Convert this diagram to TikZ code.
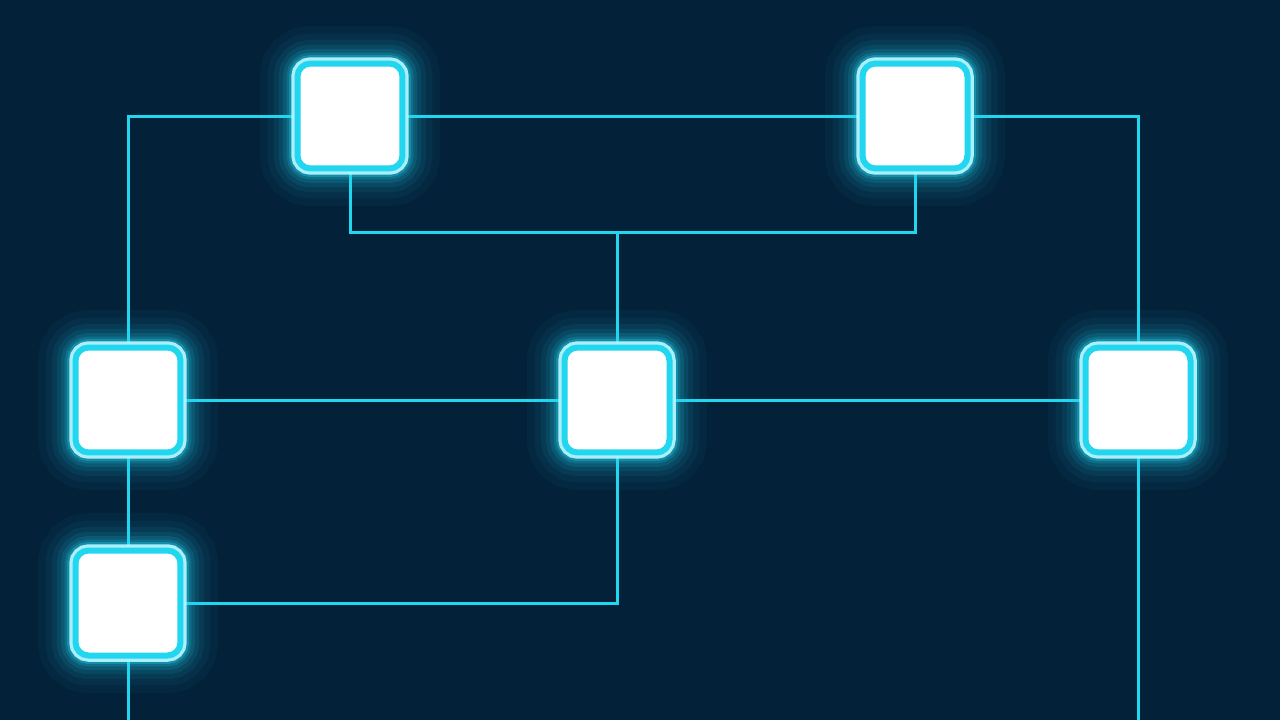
\documentclass[tikz,border=0pt]{standalone}
\usepackage{tikz}
\usetikzlibrary{calc}

\definecolor{bgnavy}{HTML}{04213A}
\definecolor{neon}{HTML}{22D6F0}
\definecolor{neonpale}{HTML}{B5F5FF}

\pgfdeclarelayer{bg}
\pgfdeclarelayer{wires}
\pgfsetlayers{bg,wires,main}

\tikzset{
	wire/.style={neon, line width=0.06cm},
	chip/.style={rectangle, rounded corners=0.26cm, minimum size=2.1cm,
		fill=white, draw=neon, line width=0.12cm,
		preaction={draw=neon, line width=1.5cm, opacity=0.04},
		preaction={draw=neon, line width=1.2cm, opacity=0.05},
		preaction={draw=neon, line width=0.95cm, opacity=0.07},
		preaction={draw=neon, line width=0.75cm, opacity=0.09},
		preaction={draw=neon, line width=0.58cm, opacity=0.12},
		preaction={draw=neon, line width=0.44cm, opacity=0.18},
		preaction={draw=neon, line width=0.34cm, opacity=0.3},
		preaction={draw=neonpale, line width=0.25cm, opacity=0.95}},
}

\begin{document}
\begin{tikzpicture}[x=0.02cm, y=-0.02cm]
	\begin{pgfonlayer}{bg}
		\fill[bgnavy] (0, 0) rectangle (1280, 720);
	\end{pgfonlayer}
	\useasboundingbox (0, 0) rectangle (1280, 720);

	% boxes
	\node[chip] (a) at (350, 116) {};
	\node[chip] (b) at (915, 116) {};
	\node[chip] (c) at (128, 400) {};
	\node[chip] (d) at (617, 400) {};
	\node[chip] (e) at (1138, 400) {};
	\node[chip] (f) at (128, 603) {};

	\coordinate (hub) at (617, 232);
	\coordinate (fend) at (128, 720);
	\coordinate (eend) at (1138, 720);

	% wiring
	\begin{pgfonlayer}{wires}
		\draw[wire] (a) -- (b);
		\draw[wire] (a.west) -| (c.north);
		\draw[wire] (b.east) -| (e.north);
		\draw[wire] (a.south) |- (hub) -| (b.south);
		\draw[wire] (hub) -- (d.north);
		\draw[wire] (c) -- (d);
		\draw[wire] (d) -- (e);
		\draw[wire] (c) -- (f);
		\draw[wire] (f.east) -| (d.south);
		\draw[wire] (f.south) -- (fend);
		\draw[wire] (e.south) -- (eend);
	\end{pgfonlayer}
\end{tikzpicture}
\end{document}
